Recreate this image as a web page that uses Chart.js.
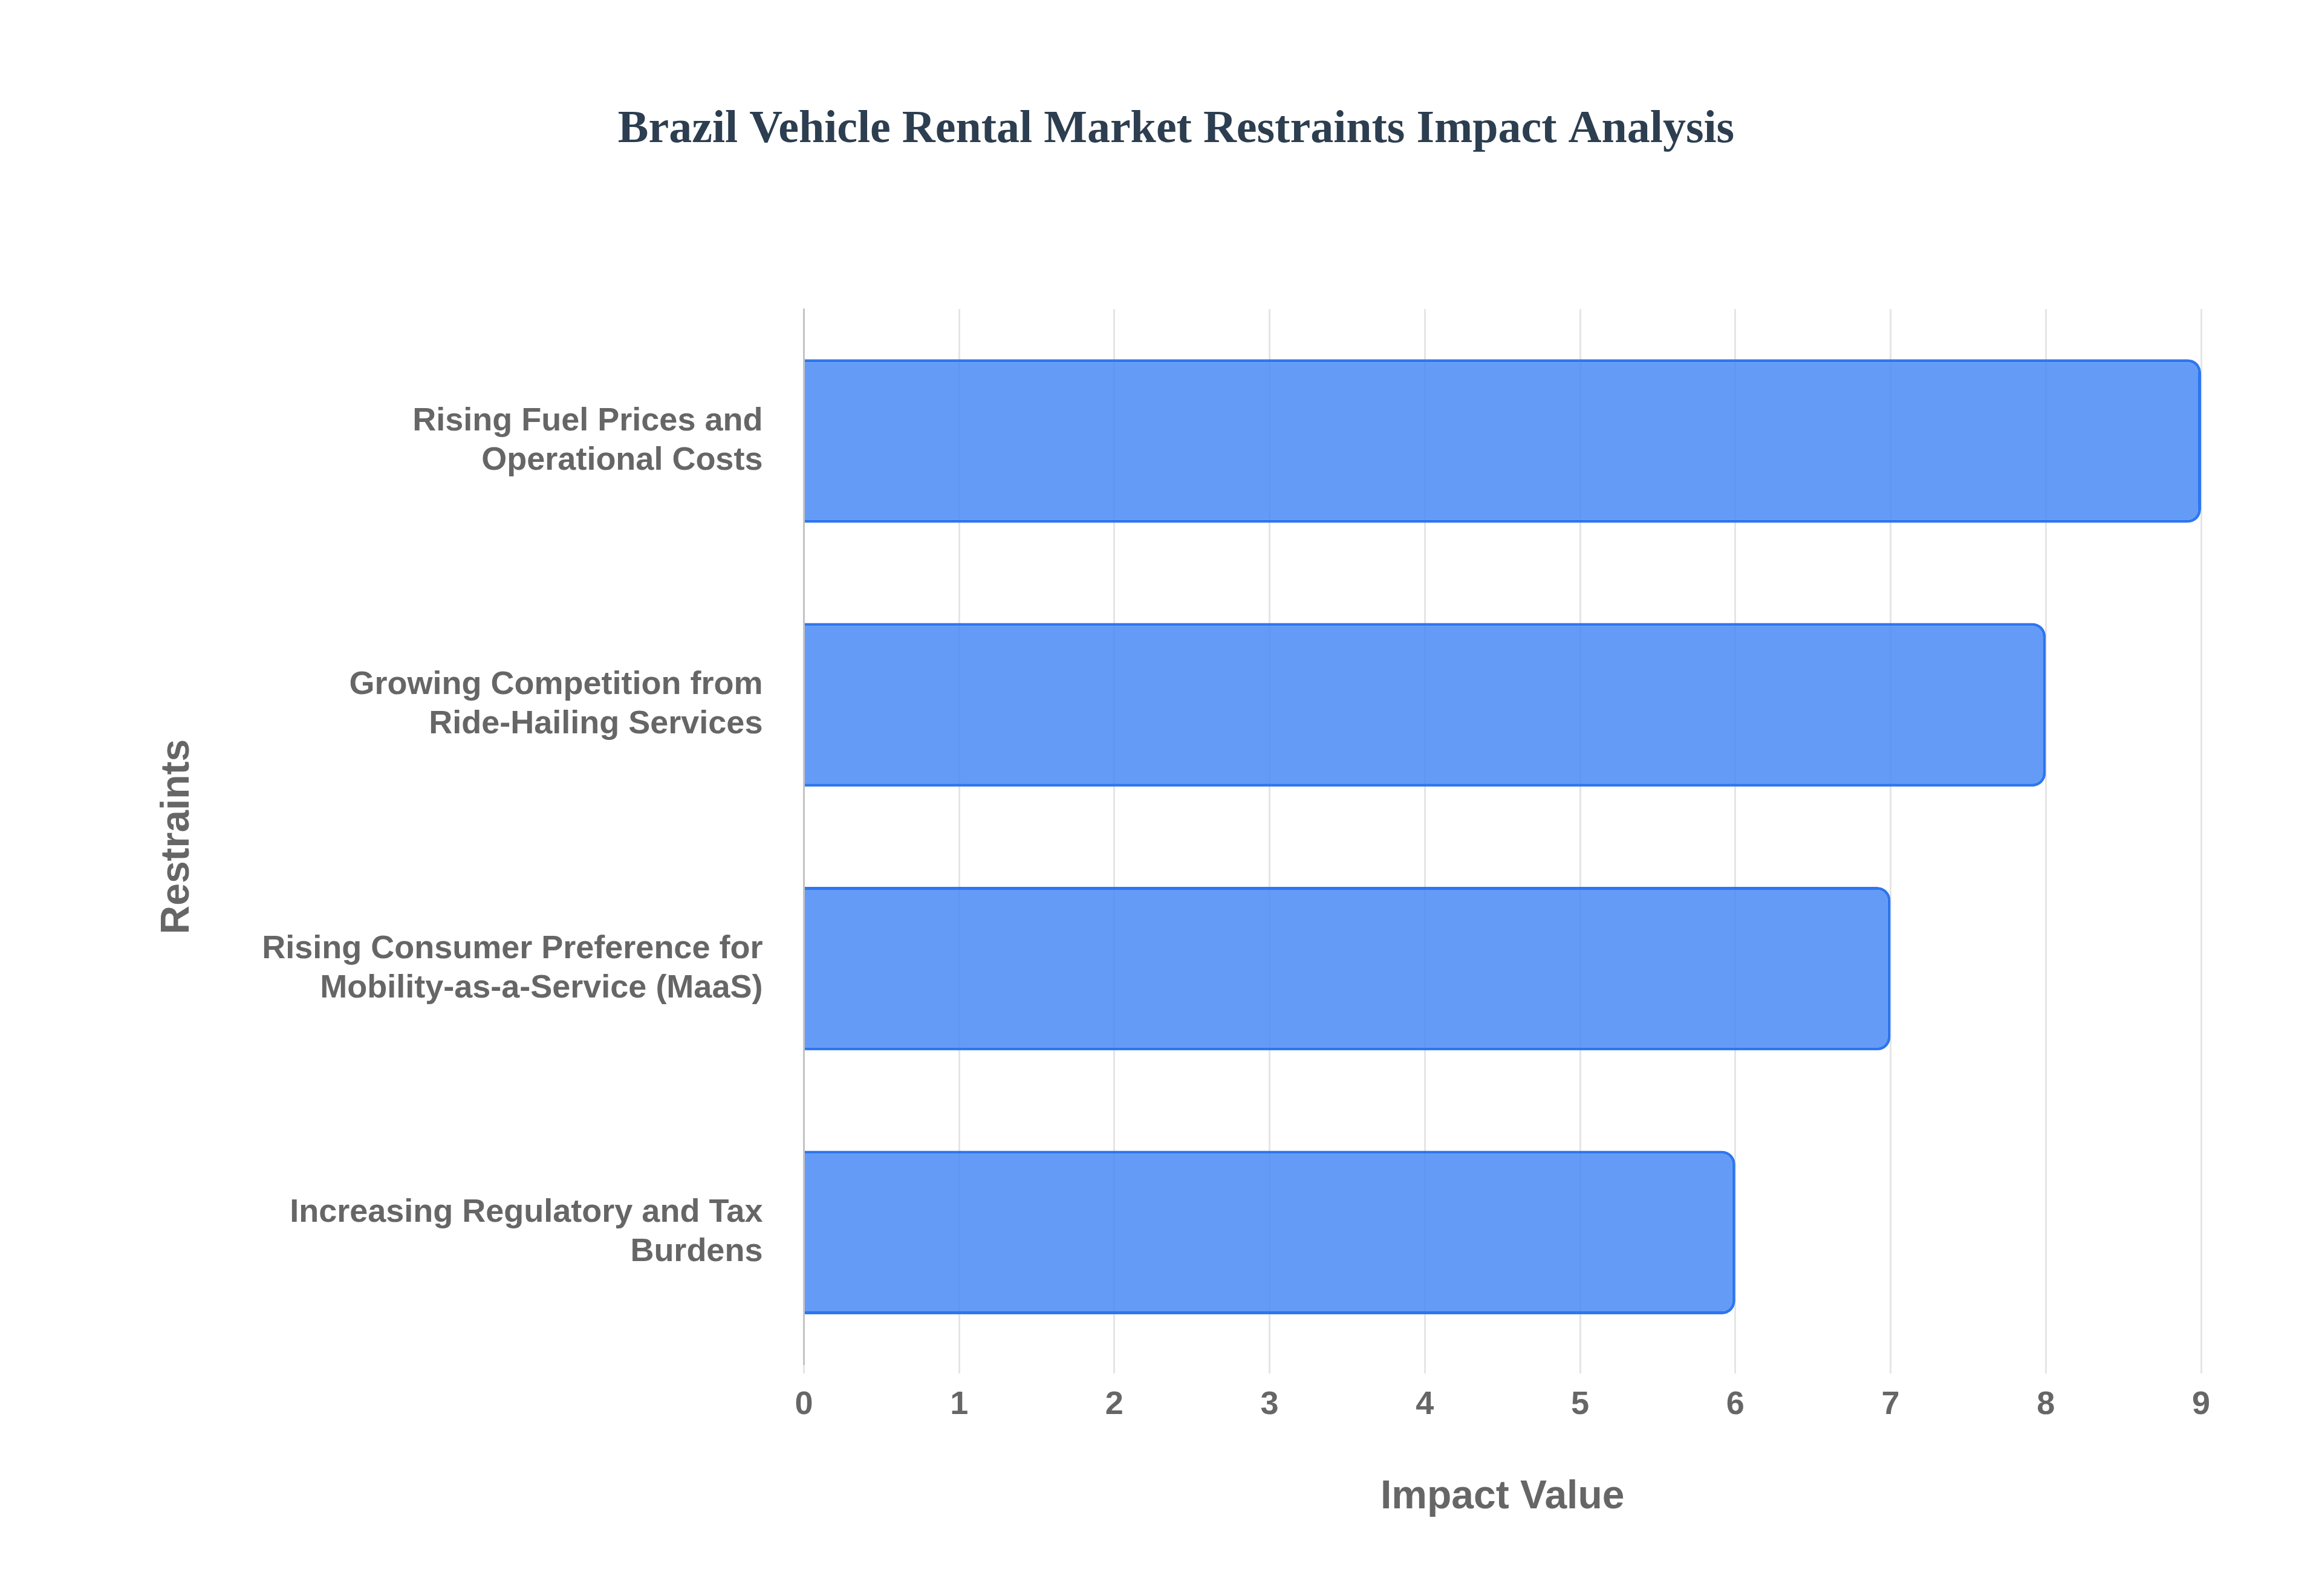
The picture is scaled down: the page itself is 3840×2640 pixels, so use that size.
<!DOCTYPE html>
<html>
<head>
<meta charset="utf-8">
<script src="https://cdn.jsdelivr.net/npm/chart.js@4/dist/chart.umd.min.js"></script>
<style>
  html, body { margin: 0; padding: 0; background: #fff; }
  #wrap { width: 3840px; height: 2640px; }
</style>
</head>
<body>
<div id="wrap"><canvas id="chart" width="3840" height="2640"></canvas></div>
<script>
// 数据
const categories = [
    ['Rising Fuel Prices and', 'Operational Costs'],
    ['Growing Competition from', 'Ride-Hailing Services'],
    ['Rising Consumer Preference for', 'Mobility-as-a-Service (MaaS)'],
    ['Increasing Regulatory and Tax', 'Burdens']
];
const impactValues = [9, 8, 7, 6];

const tickFont = { family: 'Liberation Sans, Arial, sans-serif', size: 54, weight: 'bold' };
const titleFont = { family: 'Liberation Sans, Arial, sans-serif', size: 66, weight: 'bold' };

new Chart(document.getElementById('chart').getContext('2d'), {
    type: 'bar',
    data: {
        labels: categories,
        datasets: [{
            data: impactValues,
            backgroundColor: 'rgba(66, 133, 244, 0.82)',
            borderColor: 'rgba(46, 118, 240, 1)',
            borderWidth: 5,
            borderRadius: 22,
            borderSkipped: 'start',
            barPercentage: 0.62,
            categoryPercentage: 1
        }]
    },
    options: {
        indexAxis: 'y',
        responsive: false,
        devicePixelRatio: 1,
        animation: false,
        layout: { padding: { top: 60, right: 200, bottom: 120, left: 250 } },
        plugins: {
            legend: { display: false },
            tooltip: { enabled: false },
            title: {
                display: true,
                text: 'Brazil Vehicle Rental Market Restraints Impact Analysis',
                color: '#2c3e50',
                font: { family: 'Liberation Serif, Times New Roman, serif', size: 76, weight: 'bold' },
                padding: { top: 110, bottom: 250 }
            }
        },
        scales: {
            x: {
                min: 0,
                max: 9,
                ticks: { stepSize: 1, color: '#666', font: tickFont, padding: 20 },
                grid: { color: 'rgba(0,0,0,0.1)', lineWidth: 3, drawTicks: true, tickLength: 15 },
                border: { display: false },
                title: { display: true, text: 'Impact Value', color: '#666', font: titleFont, padding: { top: 60 } }
            },
            y: {
                ticks: { color: '#666', font: tickFont, padding: 60 },
                grid: { display: false },
                border: { display: true, color: 'rgba(0,0,0,0.15)', width: 3 },
                title: { display: true, text: 'Restraints', color: '#666', font: titleFont, padding: { bottom: 40 } }
            }
        }
    }
});
</script>
</body>
</html>
